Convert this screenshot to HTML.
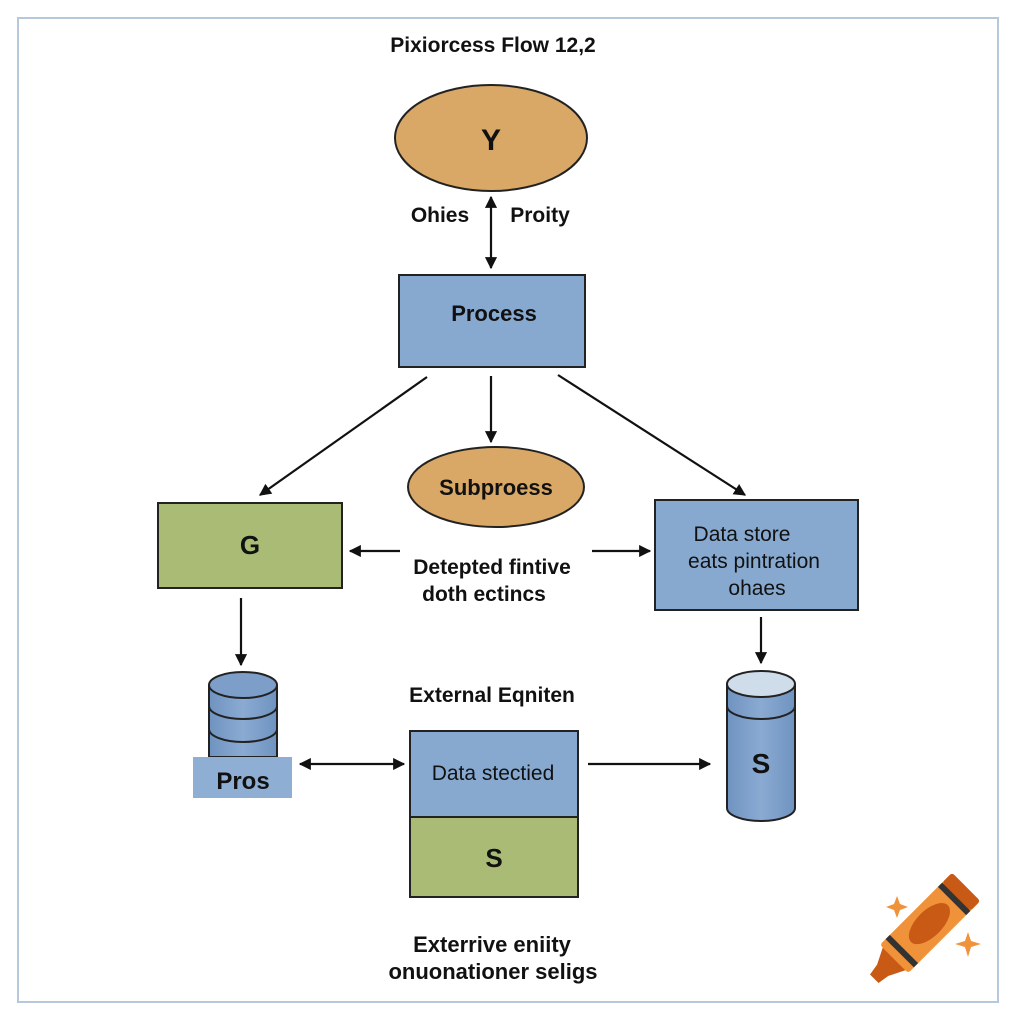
<!DOCTYPE html>
<html><head><meta charset="utf-8"><style>
html,body{margin:0;padding:0;background:#fff;}
svg{display:block;}
text{font-family:"Liberation Sans",Arial,sans-serif;fill:#111;text-anchor:middle;}
</style></head><body>
<svg width="1024" height="1024" viewBox="0 0 1024 1024" xmlns="http://www.w3.org/2000/svg">
<defs>
<marker id="ah" viewBox="0 0 10 10" refX="9" refY="5" markerWidth="5.5" markerHeight="5.5" orient="auto-start-reverse"><path d="M0,0 L10,5 L0,10 z" fill="#111"/></marker>
<linearGradient id="cyl" x1="0" x2="1"><stop offset="0" stop-color="#6f93c0"/><stop offset="0.5" stop-color="#8aaad2"/><stop offset="1" stop-color="#6f93c0"/></linearGradient>
</defs>
<rect x="18" y="18" width="980" height="984" fill="#fff" stroke="#b5c8dc" stroke-width="2"/>
<text x="493" y="52" font-size="21" font-weight="bold">Pixiorcess Flow 12,2</text>

<ellipse cx="491" cy="138" rx="96" ry="53" fill="#d9a866" stroke="#222" stroke-width="2"/>
<text x="491" y="150" font-size="30" font-weight="bold">Y</text>
<text x="440" y="222" font-size="21" font-weight="bold">Ohies</text>
<text x="540" y="222" font-size="21" font-weight="bold">Proity</text>
<line x1="491" y1="197" x2="491" y2="268" stroke="#111" stroke-width="2.2" marker-start="url(#ah)" marker-end="url(#ah)"/>

<rect x="399" y="275" width="186" height="92" fill="#87a9d0" stroke="#222" stroke-width="2"/>
<text x="494" y="321" font-size="22" font-weight="bold">Process</text>

<line x1="427" y1="377" x2="260" y2="495" stroke="#111" stroke-width="2.2" marker-end="url(#ah)"/>
<line x1="491" y1="376" x2="491" y2="442" stroke="#111" stroke-width="2.2" marker-end="url(#ah)"/>
<line x1="558" y1="375" x2="745" y2="495" stroke="#111" stroke-width="2.2" marker-end="url(#ah)"/>

<ellipse cx="496" cy="487" rx="88" ry="40" fill="#d9a866" stroke="#222" stroke-width="2"/>
<text x="496" y="495" font-size="22" font-weight="bold">Subproess</text>

<rect x="158" y="503" width="184" height="85" fill="#a9bb74" stroke="#222" stroke-width="2"/>
<text x="250" y="554" font-size="26" font-weight="bold">G</text>

<rect x="655" y="500" width="203" height="110" fill="#87a9d0" stroke="#222" stroke-width="2"/>
<text x="742" y="541" font-size="21">Data store</text>
<text x="754" y="568" font-size="21">eats pintration</text>
<text x="757" y="595" font-size="21">ohaes</text>

<line x1="400" y1="551" x2="350" y2="551" stroke="#111" stroke-width="2.2" marker-end="url(#ah)"/>
<line x1="592" y1="551" x2="650" y2="551" stroke="#111" stroke-width="2.2" marker-end="url(#ah)"/>
<text x="492" y="574" font-size="21" font-weight="bold">Detepted fintive</text>
<text x="484" y="601" font-size="21" font-weight="bold">doth ectincs</text>

<line x1="241" y1="598" x2="241" y2="665" stroke="#111" stroke-width="2.2" marker-end="url(#ah)"/>
<line x1="761" y1="617" x2="761" y2="663" stroke="#111" stroke-width="2.2" marker-end="url(#ah)"/>

<path d="M209,685 L209,757 L277,757 L277,685" fill="url(#cyl)" stroke="#222" stroke-width="2"/>
<ellipse cx="243" cy="685" rx="34" ry="13" fill="#7d9ec8" stroke="#222" stroke-width="2"/>
<path d="M209,706 A34,13 0 0 0 277,706 M209,729 A34,13 0 0 0 277,729" fill="none" stroke="#222" stroke-width="2"/>
<rect x="193" y="757" width="99" height="41" fill="#8eaed4"/>
<text x="243" y="789" font-size="24" font-weight="bold">Pros</text>

<line x1="300" y1="764" x2="404" y2="764" stroke="#111" stroke-width="2.2" marker-start="url(#ah)" marker-end="url(#ah)"/>
<text x="492" y="702" font-size="21" font-weight="bold">External Eqniten</text>

<rect x="410" y="731" width="168" height="86" fill="#87a9d0" stroke="#222" stroke-width="2"/>
<text x="493" y="780" font-size="21">Data stectied</text>
<rect x="410" y="817" width="168" height="80" fill="#a9bb74" stroke="#222" stroke-width="2"/>
<text x="494" y="867" font-size="26" font-weight="bold">S</text>

<line x1="588" y1="764" x2="710" y2="764" stroke="#111" stroke-width="2.2" marker-end="url(#ah)"/>

<path d="M727,684 L727,808 A34,13 0 0 0 795,808 L795,684" fill="url(#cyl)" stroke="#222" stroke-width="2"/>
<ellipse cx="761" cy="684" rx="34" ry="13" fill="#cfdcea" stroke="#222" stroke-width="2"/>
<path d="M727,706 A34,13 0 0 0 795,706" fill="none" stroke="#222" stroke-width="2"/>
<text x="761" y="773" font-size="28" font-weight="bold">S</text>

<text x="492" y="952" font-size="22" font-weight="bold">Exterrive eniity</text>
<text x="493" y="979" font-size="22" font-weight="bold">onuonationer seligs</text>

<g transform="translate(928,925) rotate(-45)">
<rect x="-48" y="-20" width="100" height="40" rx="3" fill="#f0923a"/>
<rect x="40" y="-20" width="14" height="40" rx="3" fill="#c85a16"/>
<rect x="34" y="-20" width="6" height="40" fill="#333"/>
<rect x="-40" y="-20" width="6" height="40" fill="#333"/>
<ellipse cx="2" cy="0" rx="26" ry="13" fill="#c85a16"/>
<path d="M-48,-16 L-64,-8 L-76,-6 L-76,6 L-64,8 L-48,16 z" fill="#c85a16"/>
</g>
<path d="M897,896 l3,8 l8,3 l-8,3 l-3,8 l-3,-8 l-8,-3 l8,-3 z" fill="#f0923a"/>
<path d="M968,932 l3,9 l10,3 l-10,3 l-3,10 l-3,-10 l-10,-3 l10,-3 z" fill="#f0923a"/>
</svg>
</body></html>
